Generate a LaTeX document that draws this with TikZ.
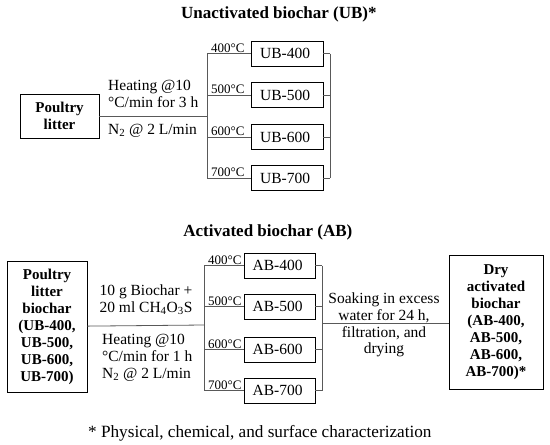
\documentclass[tikz,border=0pt]{standalone}
\usepackage{fontspec}
\setmainfont{Liberation Serif}
\begin{document}
\begin{tikzpicture}[x = 1pt, y = -1pt, every node/.append style={align = center, inner sep = 1pt},
  box/.style={draw, line width = 0.9pt, minimum height = 25pt, font = \fontsize{15.5}{17}\selectfont},
  bigbox/.style={draw, line width = 0.9pt, font = \fontsize{15}{17}\selectfont\bfseries},
  temp/.style={anchor = south west, xshift = 3pt, font = \fontsize{13}{14}\selectfont},
  note/.style={font = \fontsize{15.5}{16.8}\selectfont},
  head/.style={font = \fontsize{17}{18}\selectfont\bfseries},
  link/.style={draw = black!65, line width = 0.8pt}]

  \useasboundingbox (0, 0) rectangle (550, 445);

  \node[head] (ubtitle) at (281, 14) { Unactivated biochar (UB)* };

  \node[bigbox, minimum width = 79pt, minimum height = 44pt] (litter) at (59.5, 116) { Poultry\\litter };
  \coordinate (ubsplit) at (207, 116);
  \coordinate (ubjoin) at (330, 116);

  \node[box, minimum width = 72pt] (ub400) at (287, 53.5) { UB-400 };
  \node[box, minimum width = 72pt] (ub500) at (287, 95) { UB-500 };
  \node[box, minimum width = 72pt] (ub600) at (287, 137) { UB-600 };
  \node[box, minimum width = 72pt] (ub700) at (287, 178) { UB-700 };

  \draw[link] (litter) -- (ubsplit);
  \draw[link] (ubsplit |- ub400) -- (ubsplit |- ub700);
  \foreach \t in {400, 500, 600, 700} {
    \draw[link] (ubsplit |- ub\t) -- (ub\t.west);
    \draw[link] (ub\t.east) -- (ubjoin |- ub\t);
    \node[temp] (ubt\t) at (ubsplit |- ub\t) { \t°C };
  }
  \draw[link] (ubjoin |- ub400) -- (ubjoin |- ub700);

  \node[note, anchor = west, align = left] (ubheat) at (107, 94) { Heating @10\\°C/min for 3 h };
  \node[note, anchor = west, align = left] (ubgas) at (107, 131) { N\textsubscript{2} @ 2 L/min };

  \node[head] (abtitle) at (270, 232) { Activated biochar (AB) };

  \node[bigbox, minimum width = 80pt, minimum height = 131pt] (char) at (47, 326.5) { Poultry\\litter\\biochar\\(UB-400,\\UB-500,\\UB-600,\\UB-700) };
  \coordinate (absplit) at (204, 325);
  \coordinate (abjoin) at (322, 323);

  \node[box, minimum width = 71pt] (ab400) at (279.5, 265.5) { AB-400 };
  \node[box, minimum width = 71pt] (ab500) at (279.5, 306.5) { AB-500 };
  \node[box, minimum width = 71pt] (ab600) at (279.5, 349.5) { AB-600 };
  \node[box, minimum width = 71pt] (ab700) at (279.5, 390.5) { AB-700 };

  \node[bigbox, minimum width = 94pt, minimum height = 134pt] (dry) at (496, 322) { Dry\\activated\\biochar\\(AB-400,\\AB-500,\\AB-600,\\AB-700)* };

  \draw[link] (char) -- (absplit);
  \draw[link] (absplit |- ab400) -- (absplit |- ab700);
  \foreach \t in {400, 500, 600, 700} {
    \draw[link] (absplit |- ab\t) -- (ab\t.west);
    \draw[link] (ab\t.east) -- (abjoin |- ab\t);
    \node[temp] (abt\t) at (absplit |- ab\t) { \t°C };
  }
  \draw[link] (abjoin |- ab400) -- (abjoin |- ab700);
  \draw[link] (abjoin) -- (dry.west |- abjoin);

  \node[note] (acid) at (146, 299.5) { 10 g Biochar +\\20 ml CH\textsubscript{4}O\textsubscript{3}S };
  \node[note, anchor = west, align = left] (abheat) at (101, 358) { Heating @10\\°C/min for 1 h\\N\textsubscript{2} @ 2 L/min };
  \node[note] (soak) at (384, 325) { Soaking in excess\\water for 24 h,\\filtration, and\\drying };

  \node[font = \fontsize{17.2}{18}\selectfont] (footnote) at (262, 433) { * Physical, chemical, and surface characterization };

\end{tikzpicture}
\end{document}
